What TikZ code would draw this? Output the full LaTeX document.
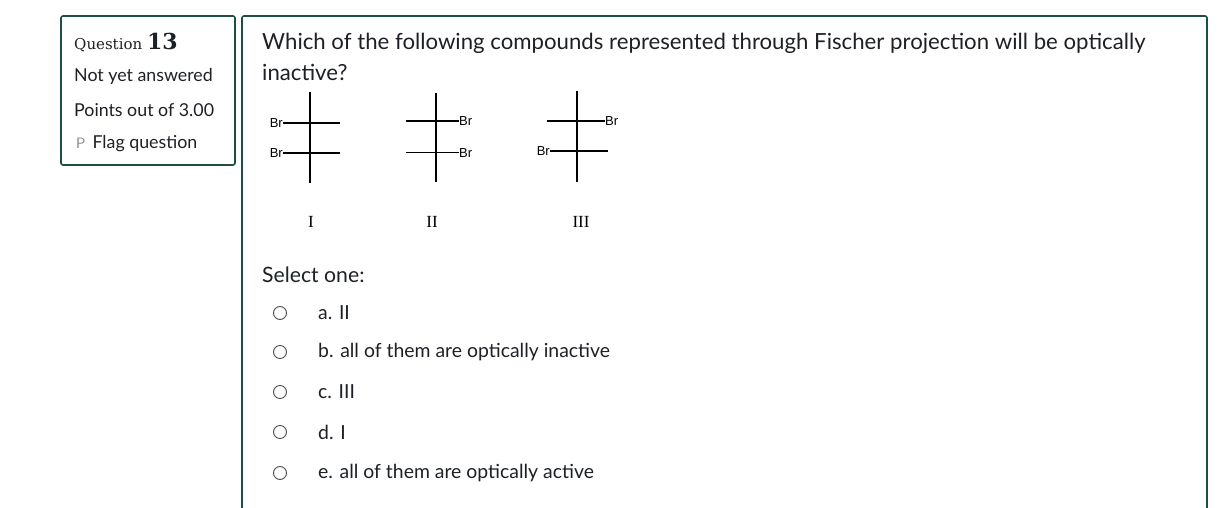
\documentclass[tikz,border=0pt]{standalone}
\usepackage{fontspec}
\setmainfont{Lato}
\newfontfamily\slab{DejaVu Serif}
\newfontfamily\arialf{Liberation Sans}
\newfontfamily\timesf{Liberation Serif}
\definecolor{bord}{HTML}{1F4E44}
\definecolor{txt}{HTML}{1D2125}
\begin{document}
\begin{tikzpicture}[x=1pt,y=-1pt,
  box/.style={draw=bord,line width=1.6pt,rounded corners=2pt},
  lbl/.style={anchor=west,inner sep=0,text=txt,font=\fontsize{17.8}{19}\selectfont},
  opt/.style={anchor=west,inner sep=0,text=txt,font=\fontsize{19.4}{21}\selectfont},
  radio/.style={draw=txt!80,line width=0.9pt,circle,minimum size=13pt,inner sep=0},
  bond/.style={line width=2.4pt},
  thin/.style={line width=1pt},
  br/.style={inner sep=0,font=\arialf\fontsize{13}{14}\selectfont},
  rom/.style={inner sep=0,font=\timesf\fontsize{17}{18}\selectfont}]
\useasboundingbox (0,0) rectangle (1221,508);
\fill[white] (0,0) rectangle (1221,508);
% left box
\draw[box] (61,16) rectangle (235,165);
\node[lbl,anchor=base west] (q) at (74,50) {\slab\fontsize{15}{16}\selectfont Question \fontsize{22}{22}\selectfont\textbf{13}};
\node[lbl] (n) at (74,76) {Not yet answered};
\node[lbl] (p) at (74,110) {Points out of 3.00};
\node[lbl] (f) at (76,144) {\fontsize{15}{15}\selectfont\textcolor{gray}{$\mathsf{P}$}\hspace{7pt}\fontsize{17.8}{19}\selectfont Flag question};
% right box
\draw[box] (242,520) -- (242,16) -- (1207,16) -- (1207,520);
\node[opt,font=\fontsize{22.2}{24}\selectfont] (qt1) at (262,43) {Which of the following compounds represented through Fischer projection will be optically};
\node[opt,font=\fontsize{22.2}{24}\selectfont] (qt2) at (262,72) {inactive?};
% Fischer I
\draw[bond] (310,92) -- (310,183);
\draw[bond] (283,123) -- (340,123);
\draw[bond] (283,153) -- (340,153);
\node[br,anchor=east] (b1) at (283,123) {Br};
\node[br,anchor=east] (b2) at (283,153) {Br};
% Fischer II
\draw[bond] (436,93) -- (436,182);
\draw[bond] (406,121) -- (459,121);
\draw[thin] (406,153) -- (459,153);
\node[br,anchor=west] (b3) at (459,121) {Br};
\node[br,anchor=west] (b4) at (459,153) {Br};
% Fischer III
\draw[bond] (577,91) -- (577,182);
\draw[bond] (547,121) -- (605,121);
\draw[bond] (550,151) -- (608,151);
\node[br,anchor=west] (b5) at (605,121) {Br};
\node[br,anchor=east] (b6) at (550,151) {Br};
\node[rom] (r1) at (311,222) {I};
\node[rom] (r2) at (432,222) {II};
\node[rom] (r3) at (581,222) {III};
% options
\node[opt,font=\fontsize{21.2}{23}\selectfont] (sel) at (262,275) {Select one:};
\foreach \y/\t/\nm in {313/a. II/a,352/b. all of them are optically inactive/b,392/c. III/c,432/d. I/d,473/e. all of them are optically active/e}{
  \node[radio] (c\nm) at (280,\y) {};
  \node[opt] (o\nm) at (318,\y) {\t};
}
\end{tikzpicture}
\end{document}
